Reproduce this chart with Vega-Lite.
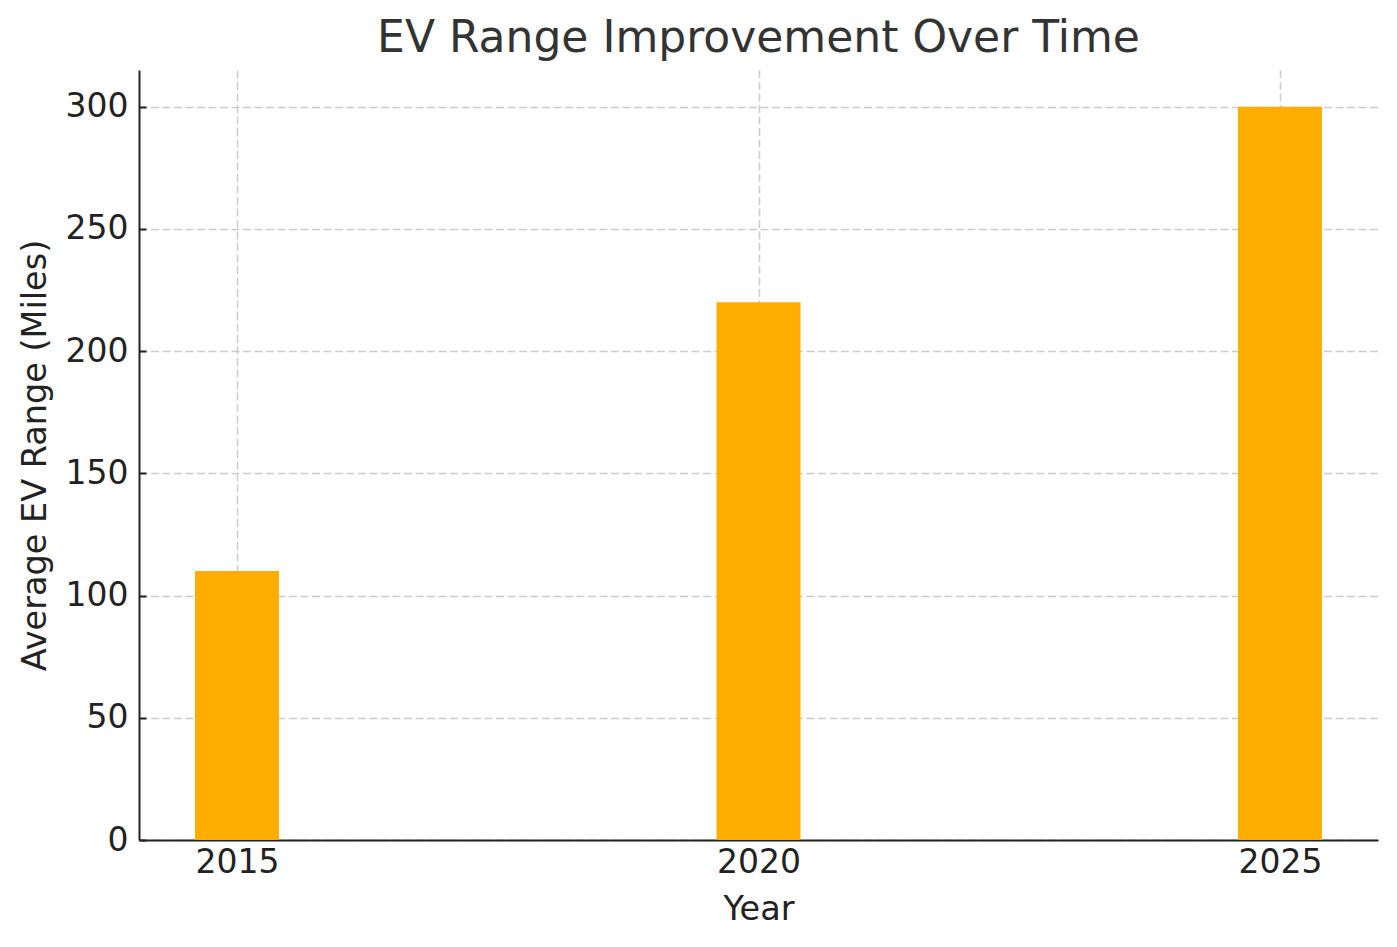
{
  "$schema": "https://vega.github.io/schema/vega-lite/v6.json",
  "width": 1239,
  "height": 770,
  "autosize": "none",
  "padding": {"left": 139, "top": 70, "right": 19, "bottom": 107},
  "background": "white",
  "title": {
    "text": "EV Range Improvement Over Time",
    "font": "DejaVu Sans",
    "fontSize": 44,
    "fontWeight": "normal",
    "color": "#333333",
    "anchor": "middle",
    "offset": 9
  },
  "data": {
    "values": [
      {"year": 2015, "range": 110},
      {"year": 2020, "range": 220},
      {"year": 2025, "range": 300}
    ]
  },
  "mark": {"type": "bar", "width": 84, "color": "#FFAE00"},
  "encoding": {
    "x": {
      "field": "year",
      "type": "quantitative",
      "title": "Year",
      "scale": {"domain": [2014.06, 2025.94], "nice": false, "zero": false, "padding": 0},
      "axis": {"values": [2015, 2020, 2025], "format": "d", "labelPadding": 13.5, "titlePadding": 14}
    },
    "y": {
      "field": "range",
      "type": "quantitative",
      "title": "Average EV Range (Miles)",
      "scale": {"domain": [0, 315], "nice": false, "padding": 0},
      "axis": {"values": [0, 50, 100, 150, 200, 250, 300], "labelPadding": 18, "titlePadding": 13}
    }
  },
  "config": {
    "view": {"stroke": null},
    "axis": {
      "zindex": 1,
      "labelFont": "DejaVu Sans",
      "labelFontSize": 33,
      "labelColor": "#222222",
      "titleFont": "DejaVu Sans",
      "titleFontSize": 33.5,
      "titleFontWeight": "normal",
      "titleColor": "#222222",
      "domainColor": "#222222",
      "domainWidth": 2,
      "tickColor": "#222222",
      "tickWidth": 2,
      "tickSize": -7,
      "grid": true,
      "gridColor": "#cccccc",
      "gridWidth": 1.5,
      "gridDash": [8, 3.5]
    }
  }
}
